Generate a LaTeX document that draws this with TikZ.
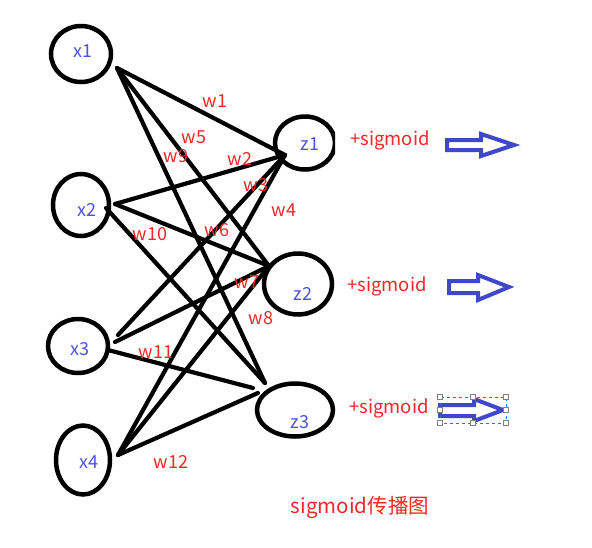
\documentclass[tikz,border=0pt]{standalone}
\usepackage{fontspec}
\setmainfont{Noto Sans CJK SC}
\usetikzlibrary{shapes.geometric}
\definecolor{pblue}{HTML}{3F48CC}
\definecolor{tblue}{HTML}{4A55D8}
\definecolor{pred}{HTML}{F02828}
\definecolor{selblue}{HTML}{1E78D2}
\begin{document}
\begin{tikzpicture}[x=1pt,y=-1pt,
  neuron/.style={draw=black,line width=4.5pt,ellipse,inner sep=0pt},
  edge/.style={draw=black,line width=4.2pt,line cap=round},
  ntext/.style={text=tblue,font=\fontsize{18}{18}\selectfont,inner sep=0pt},
  wlabel/.style={text=pred,font=\fontsize{18}{18}\selectfont,inner sep=0pt},
  sig/.style={text=pred,font=\fontsize{18.5}{18.5}\selectfont,inner sep=0pt},
  barrow/.style={draw=pblue,line width=4pt,line join=miter},
  handle/.style={draw=gray,fill=white,line width=0.8pt}]
\useasboundingbox (0,0) rectangle (592,547);
\fill[white] (0,0) rectangle (592,547);
% input neurons
\node[neuron,minimum width=60pt,minimum height=56pt] (x1) at (81,54) {};
\node[neuron,minimum width=56pt,minimum height=62pt] (x2) at (81,205) {};
\node[neuron,minimum width=60pt,minimum height=54pt] (x3) at (78,346) {};
\node[neuron,minimum width=54pt,minimum height=69pt] (x4) at (83,460) {};
% output neurons (right side cut)
\begin{scope}
\clip (0,0) rectangle (335,547);
\node[neuron,minimum width=60pt,minimum height=53pt] (z1) at (305,143) {};
\node[neuron,minimum width=68pt,minimum height=61pt] (z2) at (298,284) {};
\node[neuron,minimum width=76pt,minimum height=53pt] (z3) at (295,410) {};
\end{scope}
% node texts
\node[ntext] (tx1) at (83,51) {x1};
\node[ntext] (tx2) at (87,210) {x2};
\node[ntext] (tx3) at (80,349) {x3};
\node[ntext] (tx4) at (89,462) {x4};
\node[ntext] (tz1) at (310,144) {z1};
\node[ntext] (tz2) at (303,294) {z2};
\node[ntext] (tz3) at (300,422) {z3};
% connection points
\coordinate (x1o) at (117,68);
\coordinate (x2o) at (115,204);
\coordinate (x2p) at (106,208);
\coordinate (x3a) at (118,335);
\coordinate (x3b) at (115,342);
\coordinate (x3c) at (108,350);
\coordinate (x4o) at (118,455);
\coordinate (z1i) at (285,155);
\coordinate (z2i) at (269,266);
\coordinate (z3a) at (265,383);
\coordinate (z3b) at (253,388);
\coordinate (z3c) at (258,393);
% edges
\draw[edge] (x1o) -- (z1i);
\draw[edge] (x2o) -- (z1i);
\draw[edge] (x3a) -- (z1i);
\draw[edge] (x4o) -- (z1i);
\draw[edge] (x1o) -- (z2i);
\draw[edge] (x2o) -- (z2i);
\draw[edge] (x3b) -- (z2i);
\draw[edge] (x4o) -- (z2i);
\draw[edge] (x1o) -- (z3a);
\draw[edge] (x2p) -- (z3a);
\draw[edge] (x3c) -- (z3b);
\draw[edge] (x4o) -- (z3c);
% weight labels
\node[wlabel] (w1) at (215,101) {w1};
\node[wlabel] (w5) at (194,137) {w5};
\node[wlabel] (w9) at (176,156) {w9};
\node[wlabel] (w2) at (240,159) {w2};
\node[wlabel] (w3) at (256,185) {w3};
\node[wlabel] (w4) at (284,210) {w4};
\node[wlabel] (w10) at (150,234) {w10};
\node[wlabel] (w6) at (217,230) {w6};
\node[wlabel] (w7) at (247,282) {w7};
\node[wlabel] (w8) at (261,318) {w8};
\node[wlabel] (w11) at (156,352) {w11};
\node[wlabel] (w12) at (171,462) {w12};
% sigmoid labels
\node[sig] (s1) at (390,140) {+sigmoid};
\node[sig] (s2) at (387,286) {+sigmoid};
\node[sig] (s3) at (389,408) {+sigmoid};
% hollow arrows
\draw[barrow] (447,140) -- (481,140) -- (481,134) -- (514,145) -- (481,156) -- (481,150) -- (447,150) -- cycle;
\draw[barrow] (449,281) -- (478,281) -- (478,275) -- (509,287) -- (478,300) -- (478,293) -- (449,293) -- cycle;
\draw[barrow] (440,405) -- (474,405) -- (474,399) -- (503,410) -- (474,421) -- (474,416) -- (440,416) -- cycle;
% selection frame
\draw[selblue,dashed,line width=0.8pt] (440,397) rectangle (506,423);
\foreach \hx/\hy in {440/397,473/397,506/397,440/410,506/410,440/423,473/423,506/423}
  \draw[handle] (\hx-2.5,\hy-2.5) rectangle (\hx+2.5,\hy+2.5);
% title
\node[text=pred,font=\fontsize{20.5}{20.5}\selectfont,inner sep=0pt] (title) at (360,507) {sigmoid传播图};
\end{tikzpicture}
\end{document}
